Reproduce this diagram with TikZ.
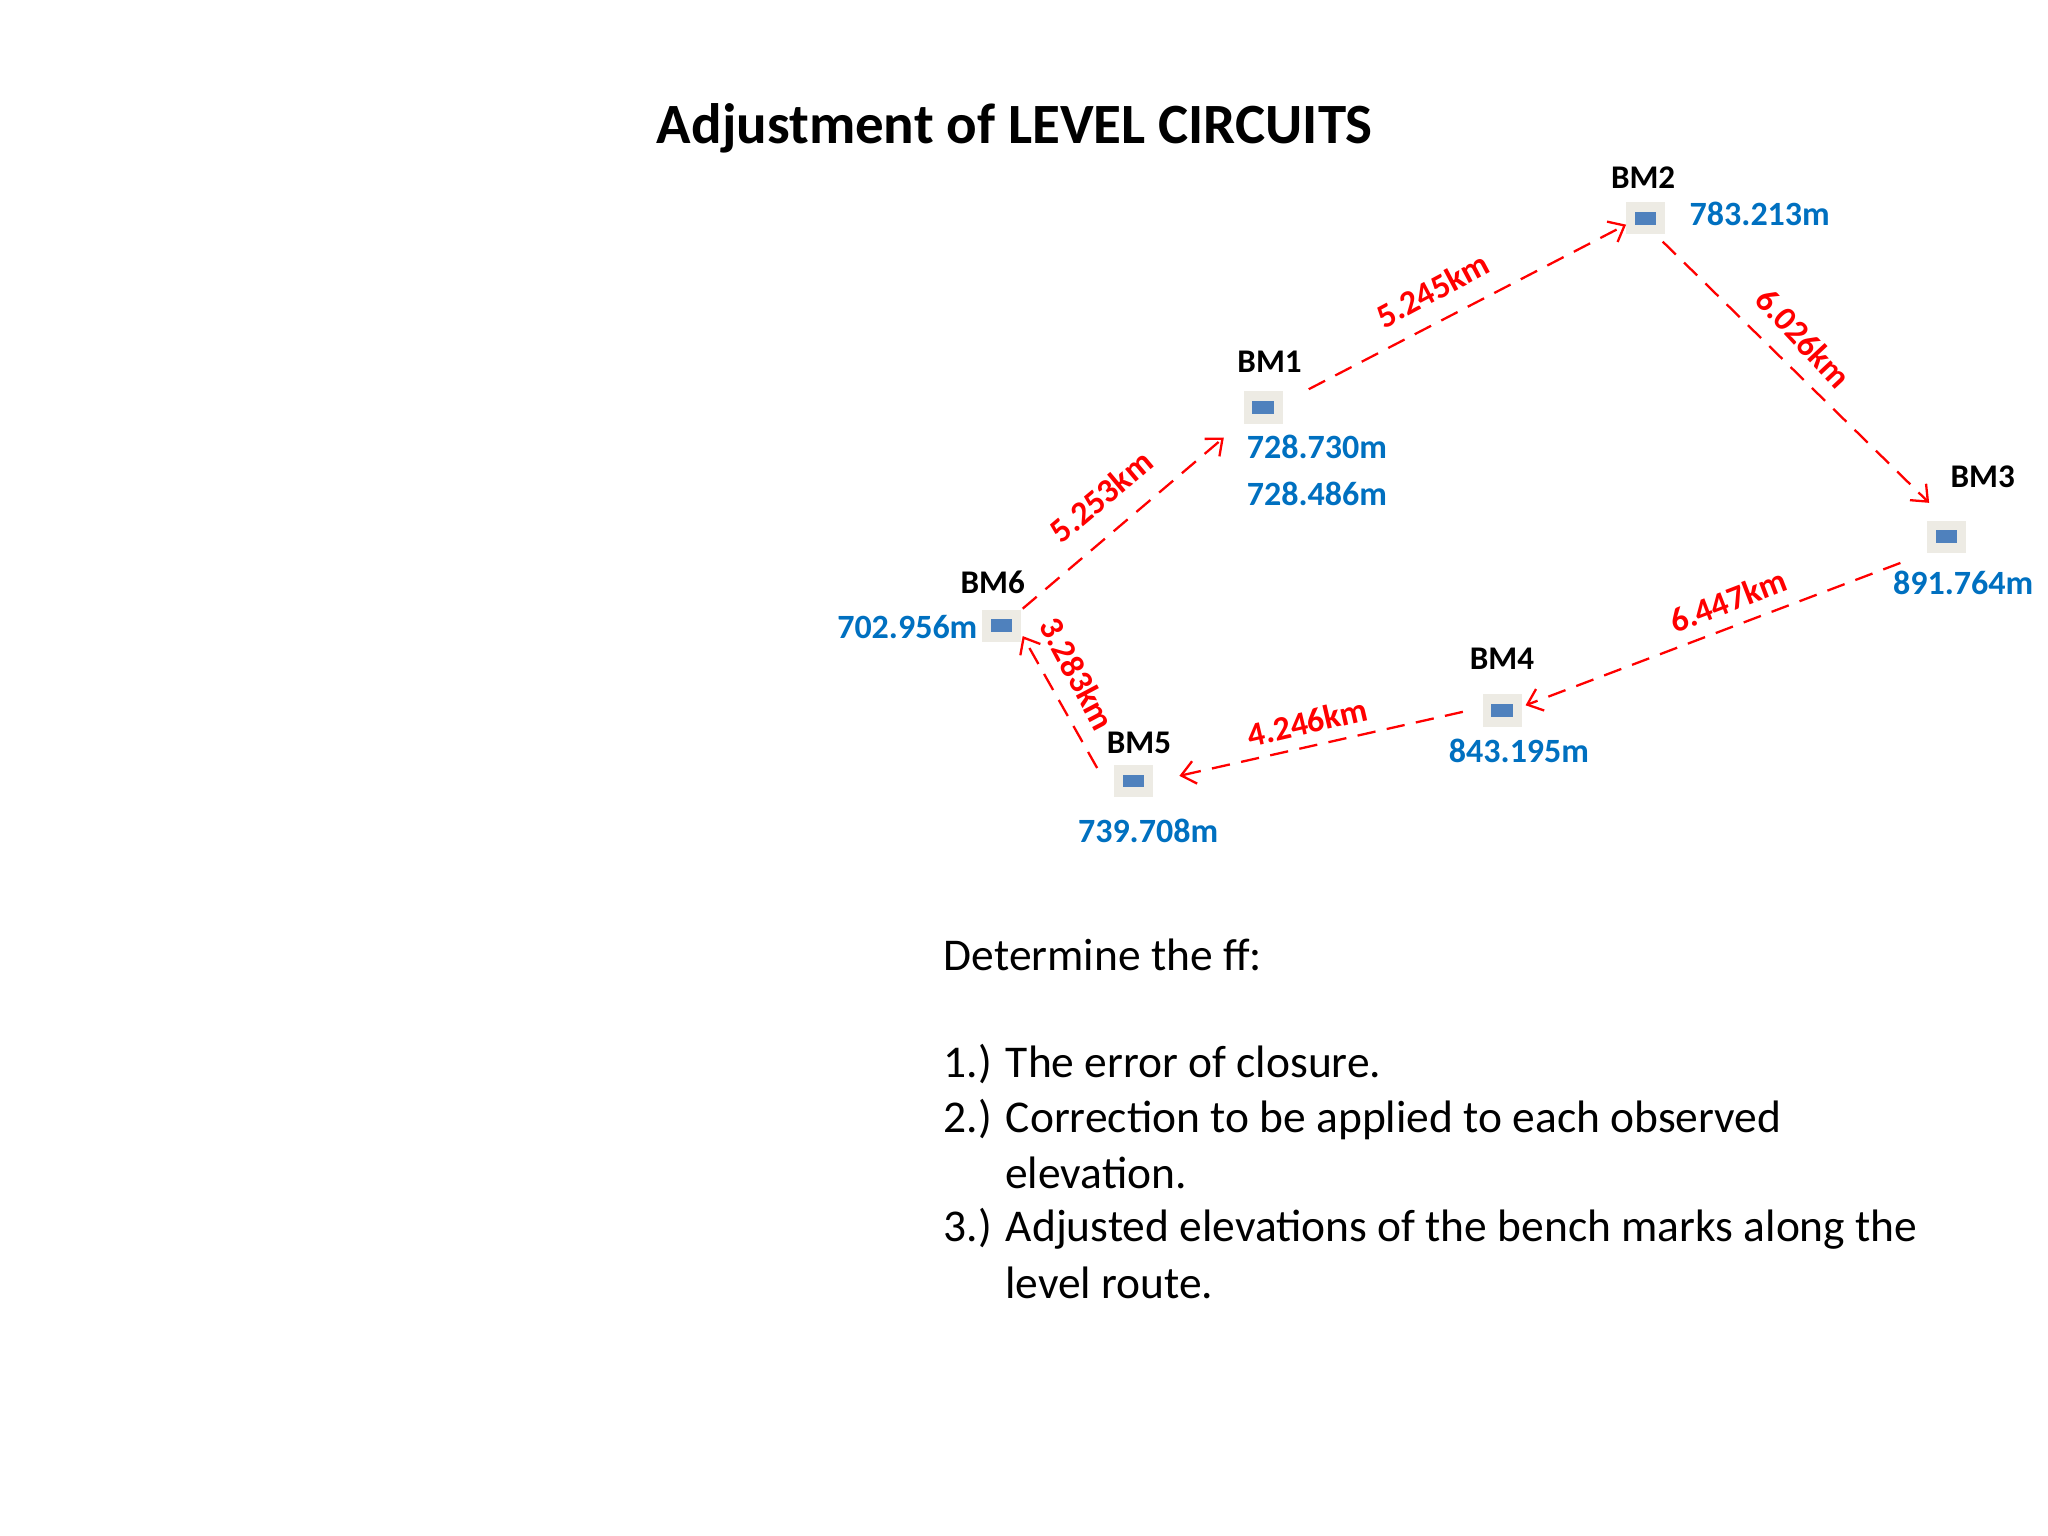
\documentclass[tikz,border=0pt]{standalone}
\usepackage{fontspec}
\setmainfont{Carlito}
\usetikzlibrary{arrows.meta}
\definecolor{bmblue}{HTML}{4F81BD}
\definecolor{bmgray}{HTML}{EDEBE4}
\definecolor{valblue}{HTML}{0070C0}
\tikzset{
  bm/.style={fill=bmgray,inner sep=0pt,minimum width=8.5pt,minimum height=7pt,
    path picture={\fill[bmblue] ([xshift=-2.3pt,yshift=-1.4pt]path picture bounding box.center) rectangle ([xshift=2.3pt,yshift=1.4pt]path picture bounding box.center);}},
  bmlab/.style={font=\fontsize{7.2}{8}\selectfont\bfseries},
  val/.style={font=\fontsize{7.4}{8}\selectfont\bfseries,text=valblue},
  dist/.style={font=\fontsize{7.4}{8}\selectfont\bfseries,text=red},
  leg/.style={draw=red,dash pattern=on 4pt off 2.5pt,line width=0.5pt,-{Straight Barb[length=3pt,width=5pt]}},
  body/.style={font=\fontsize{9.9}{11}\selectfont,anchor=west,inner sep=0pt}
}
\begin{document}
\begin{tikzpicture}[x=0.01cm,y=-0.01cm]
\useasboundingbox (0,0) rectangle (1568,1176);
\node[font=\fontsize{12.4}{14}\selectfont\bfseries] (title) at (777,98) {Adjustment of LEVEL CIRCUITS};
% markers
\node[bm] (b1) at (967,312) {};
\node[bm] (b2) at (1260,167) {};
\node[bm] (b3) at (1490,411) {};
\node[bm] (b4) at (1150,544) {};
\node[bm] (b5) at (868,598) {};
\node[bm] (b6) at (767,479) {};
% labels
\node[bmlab] (l1) at (972,277) {BM1};
\node[bmlab] (l2) at (1258,136) {BM2};
\node[bmlab] (l3) at (1518,365) {BM3};
\node[bmlab] (l4) at (1150,504) {BM4};
\node[bmlab] (l5) at (872,569) {BM5};
\node[bmlab] (l6) at (760,446) {BM6};
\node[val,anchor=west,inner sep=0pt] (v1a) at (954,342) {728.730m};
\node[val,anchor=west,inner sep=0pt] (v1b) at (954,378) {728.486m};
\node[val,anchor=west,inner sep=0pt] (v2) at (1293,164) {783.213m};
\node[val] (v3) at (1503,446) {891.764m};
\node[val] (v4) at (1163,575) {843.195m};
\node[val] (v5) at (879,636) {739.708m};
\node[val,anchor=east,inner sep=0pt] (v6) at (749,480) {702.956m};
% legs
\draw[leg] ([shift={(16,-13)}]b6.center) -- ([shift={(-30,23)}]b1.center);
\draw[leg] ([shift={(35,-14)}]b1.center) -- ([shift={(-15,5)}]b2.center);
\draw[leg] ([shift={(13,18)}]b2.center) -- ([shift={(-13,-26)}]b3.center);
\draw[leg] ([shift={(-35,20)}]b3.center) -- ([shift={(18,-4)}]b4.center);
\draw[leg] ([shift={(-30,1)}]b4.center) -- ([shift={(35,-4)}]b5.center);
\draw[leg] ([shift={(-28,-10)}]b5.center) -- ([shift={(16,8)}]b6.center);
\node[dist,rotate=40] (d61) at (843,380) {5.253km};
\node[dist,rotate=28] (d12) at (1097,222) {5.245km};
\node[dist,rotate=-47] (d23) at (1381,259) {6.026km};
\node[dist,rotate=21] (d34) at (1323,460) {6.447km};
\node[dist,rotate=13] (d45) at (1001,553) {4.246km};
\node[dist,rotate=-62] (d56) at (825,516) {3.283km};
% body
\node[body] (t0) at (722,731) {Determine the f{}f:};
\node[body] (t1) at (722,815) {1.) The error of closure.};
\node[body] (t2) at (722,857) {2.) Correction to be applied to each observed};
\node[body] (t2b) at (769,898) {elevation.};
\node[body] (t3) at (722,941) {3.) Adjusted elevations of the bench marks along the};
\node[body] (t3b) at (769,982) {level route.};
\end{tikzpicture}
\end{document}
